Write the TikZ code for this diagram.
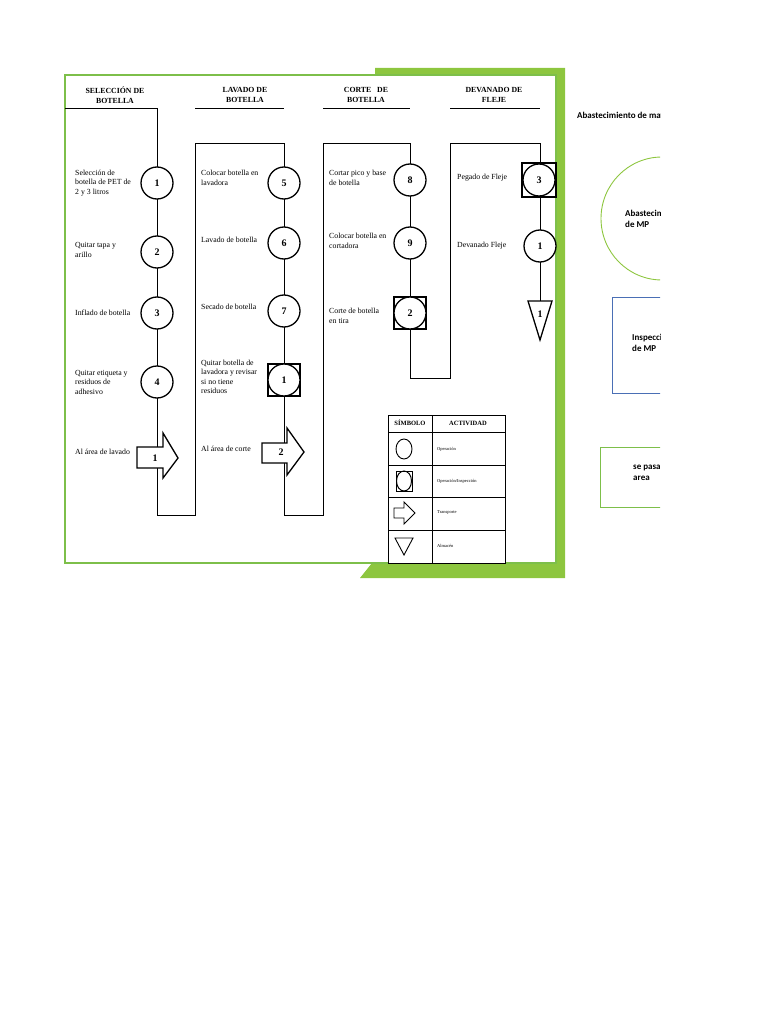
\documentclass[tikz,border=0pt]{standalone}
\usepackage{fontspec}
\setmainfont{Liberation Serif}
\newfontfamily\carl{Carlito}
\usetikzlibrary{shapes.geometric}
\definecolor{gr}{HTML}{8DC63F}
\definecolor{grl}{HTML}{7DBF4A}
\definecolor{bl}{HTML}{4A6FB5}
\begin{document}
\begin{tikzpicture}[x=1pt,y=-1pt,
 op/.style={circle,draw,line width=1.3pt,minimum size=32pt,inner sep=0pt,font=\bfseries\normalsize,fill=white},
 opbox/.style={draw,line width=1.3pt,minimum size=32pt,inner sep=0pt,fill=white},
 lbl/.style={font=\fontsize{7.8}{9.5}\selectfont,align=left,anchor=west,inner sep=0pt},
 hdr/.style={font=\bfseries\fontsize{7.8}{10}\selectfont,align=center},
 rt/.style={font=\carl\bfseries\fontsize{9}{11}\selectfont,align=left,anchor=west,inner sep=0pt},
 ln/.style={line width=0.9pt},
 tr/.style={line width=1.3pt,fill=white}]
\useasboundingbox (0,0) rectangle (768,1024);
% frame
\fill[gr] (375,68) -- (565,68) -- (565,578) -- (360,578) -- (372,563) -- (555,563) -- (555,75) -- (375,75) -- cycle;
\draw[grl,line width=1.5pt] (65,75) rectangle (556,563);
% headers
\node[hdr] at (115,95) {SELECCIÓN DE\\BOTELLA};
\node[hdr] at (245,95) {LAVADO DE\\BOTELLA};
\node[hdr] at (366,95) {CORTE\ \ \ DE\\BOTELLA};
\node[hdr] at (494,95) {DEVANADO DE\\FLEJE};
\coordinate (h1) at (65,108); \coordinate (t1) at (157,108);
\coordinate (h2) at (195,108); \coordinate (t2) at (284,108);
\coordinate (h3) at (323,108); \coordinate (t3) at (410,108);
\coordinate (h4) at (450,108); \coordinate (t4) at (540,108);
\coordinate (b1) at (157,515); \coordinate (c1) at (195,515); \coordinate (u1) at (195,143); \coordinate (v1) at (284,143);
\coordinate (b2) at (284,515); \coordinate (c2) at (323,515); \coordinate (u2) at (323,143); \coordinate (v2) at (410,143);
\coordinate (b3) at (410,378); \coordinate (c3) at (450,378); \coordinate (u3) at (450,143); \coordinate (v3) at (540,143);
\draw[ln] (h1)--(t1)--(b1)--(c1)--(u1)--(v1)--(b2)--(c2)--(u2)--(v2)--(b3)--(c3)--(u3)--(v3)--(540,318);
\draw[ln] (h2)--(t2) (h3)--(t3) (h4)--(t4);
% col1 nodes
\node[op] (o1) at (157,183) {1};
\node[op] (o2) at (157,252) {2};
\node[op] (o3) at (157,313) {3};
\node[op] (o4) at (157,382) {4};
\draw[tr] (137,447)--(163,447)--(163,433)--(178,458)--(163,478)--(163,468)--(137,468)--cycle;
\node[font=\bfseries\normalsize] (a1) at (155,458) {1};
\node[lbl] at (75,183) {Selección de\\botella de PET de\\2 y 3 litros};
\node[lbl] at (75,250) {Quitar tapa y\\arillo};
\node[lbl] at (75,313) {Inflado de botella};
\node[lbl] at (75,382) {Quitar etiqueta y\\residuos de\\adhesivo};
\node[lbl] at (75,452) {Al área de lavado};
% col2
\node[op] (o5) at (284,183) {5};
\node[op] (o6) at (284,243) {6};
\node[op] (o7) at (284,311) {7};
\node[opbox] (q1) at (284,380) {};
\node[op] at (284,380) {1};
\draw[tr] (262,443)--(287,443)--(287,428)--(304,452)--(287,475)--(287,463)--(262,463)--cycle;
\node[font=\bfseries\normalsize] (a2) at (281,452) {2};
\node[lbl] at (201,178) {Colocar botella en\\lavadora};
\node[lbl] at (201,240) {Lavado de botella};
\node[lbl] at (201,307) {Secado de botella};
\node[lbl] at (201,377) {Quitar botella de\\lavadora y revisar\\si no tiene\\residuos};
\node[lbl] at (201,449) {Al área de corte};
% col3
\node[op] (o8) at (410,180) {8};
\node[op] (o9) at (410,243) {9};
\node[opbox] (q2) at (410,313) {};
\node[op] at (410,313) {2};
\node[lbl] at (329,178) {Cortar pico y base\\de botella};
\node[lbl] at (329,241) {Colocar botella en\\cortadora};
\node[lbl] at (329,316) {Corte de botella\\en tira};
% col4
\node[opbox,minimum size=34pt] (q3) at (539,180) {};
\node[op] at (539,180) {3};
\node[op] (o10) at (540,246) {1};
\draw[tr] (528,301)--(552,301)--(540,340)--cycle;
\node[font=\bfseries\normalsize] (s1) at (540,314) {1};
\node[lbl] at (457,178) {Pegado de Fleje};
\node[lbl] at (457,246) {Devanado Fleje};
% legend
\draw[line width=0.8pt,fill=white] (388,415) rectangle (505,563);
\draw[line width=0.6pt] (388,432)--(505,432) (388,465)--(505,465) (388,497)--(505,497) (388,530)--(505,530) (432,415)--(432,563);
\node[hdr,font=\bfseries\fontsize{6.5}{8}\selectfont] at (410,423) {SÍMBOLO};
\node[hdr,font=\bfseries\fontsize{6.5}{8}\selectfont] at (468,423) {ACTIVIDAD};
\draw[line width=0.9pt] (404,449) ellipse (8pt and 10pt);
\draw[line width=1pt] (396,471) rectangle (412,491);
\draw[line width=1pt] (404,481) ellipse (7.5pt and 10pt);
\draw[line width=0.9pt] (394,508)--(404,508)--(404,502)--(415,513)--(404,524)--(404,518)--(394,518)--cycle;
\draw[line width=0.9pt] (395,538)--(413,538)--(404,555)--cycle;
\node[lbl,font=\fontsize{4.5}{5}\selectfont] at (437,449) {Operación};
\node[lbl,font=\fontsize{4.5}{5}\selectfont] at (437,481) {Operación/Inspección};
\node[lbl,font=\fontsize{4.5}{5}\selectfont] at (437,513) {Transporte};
\node[lbl,font=\fontsize{4.5}{5}\selectfont] at (437,546) {Almacén};
% right side
\begin{scope}
\clip (566,0) rectangle (660,1024);
\node[rt] at (577,116) {Abastecimiento de materia prima};
\draw[gr,line width=0.9pt] (662,157) arc[start angle=270,end angle=90,x radius=61,y radius=61.5];
\node[rt] at (625,219) {Abastecimiento\\de MP};
\draw[bl,line width=0.8pt] (700,297)--(612,297)--(612,393)--(700,393);
\node[rt] at (632,343) {Inspección\\de MP};
\draw[grl,line width=0.8pt] (700,447)--(600,447)--(600,507)--(700,507);
\node[rt] at (633,472) {se pasa al\\area};
\end{scope}
\end{tikzpicture}
\end{document}
